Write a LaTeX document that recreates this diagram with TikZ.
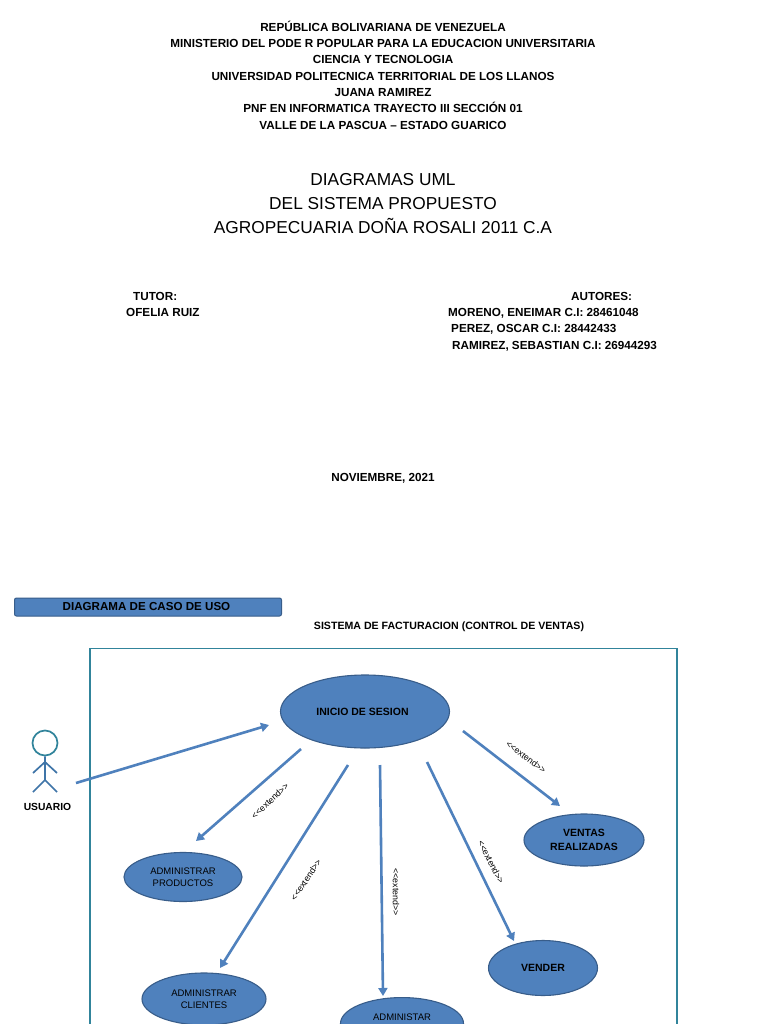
\documentclass[tikz,border=0pt]{standalone}
\usepackage{fontspec}
\setmainfont{Liberation Sans}
\usetikzlibrary{shapes.geometric,arrows.meta}
\definecolor{usefill}{HTML}{4F81BD}
\definecolor{useline}{HTML}{385D8A}
\definecolor{teal}{HTML}{31849B}
\definecolor{limb}{HTML}{3F75A8}
\tikzset{
  head/.style={font=\bfseries\fontsize{11.7}{12}\selectfont,inner sep=0pt,text=black,text height=8.4pt,text depth=0pt},
  big/.style={font=\fontsize{17.3}{17}\selectfont,inner sep=0pt,text=black,text height=12.4pt,text depth=0pt},
  usecase/.style={ellipse,draw=useline,line width=1.1pt,fill=usefill,inner sep=0pt,align=center},
  boldtxt/.style={font=\bfseries\fontsize{10.5}{13.5}\selectfont,text=black},
  thintxt/.style={font=\fontsize{9.5}{11.8}\selectfont,text=black},
  ext/.style={font=\fontsize{8.8}{9}\selectfont,inner sep=0pt,text=black},
  flow/.style={draw=usefill,line width=2.6pt,-{Triangle[length=8pt,width=9pt]}},
  stick/.style={draw=limb,line width=1.7pt},
}
\newcommand{\extlabel}{<{}<extend>{}>}
\begin{document}
\begin{tikzpicture}[x=1pt,y=-1pt]
\useasboundingbox (0,0) rectangle (768,1024);
\clip (0,0) rectangle (768,1024);
\fill[white] (0,0) rectangle (768,1024);
\node[head] (h1) at (383,27) {REPÚBLICA BOLIVARIANA DE VENEZUELA};
\node[head] (h2) at (383,43.5) {MINISTERIO DEL PODE R POPULAR PARA LA EDUCACION UNIVERSITARIA};
\node[head] (h3) at (383,59.5) {CIENCIA Y TECNOLOGIA};
\node[head] (h4) at (383,76) {UNIVERSIDAD POLITECNICA TERRITORIAL DE LOS LLANOS};
\node[head] (h5) at (383,92) {JUANA RAMIREZ};
\node[head] (h6) at (383,108.5) {PNF EN INFORMATICA TRAYECTO III SECCIÓN 01};
\node[head] (h7) at (383,125) {VALLE DE LA PASCUA – ESTADO GUARICO};
\node[big] (t1) at (383,179) {DIAGRAMAS UML};
\node[big] (t2) at (383,203) {DEL SISTEMA PROPUESTO};
\node[big] (t3) at (383,227) {AGROPECUARIA DOÑA ROSALI 2011 C.A};
\node[head,anchor=west] (a1) at (133,296) {TUTOR:};
\node[head,anchor=west] (a2) at (126,312) {OFELIA RUIZ};
\node[head,anchor=west] (a3) at (571,296) {AUTORES:};
\node[head,anchor=west] (a4) at (448,312) {MORENO, ENEIMAR C.I: 28461048};
\node[head,anchor=west] (a5) at (451,328) {PEREZ, OSCAR C.I: 28442433};
\node[head,anchor=west] (a6) at (452,345) {RAMIREZ, SEBASTIAN C.I: 26944293};
\node[head] (date) at (383,477) {NOVIEMBRE, 2021};
\node[draw=useline,line width=1pt,fill=usefill,rounded corners=2pt,minimum width=267pt,minimum height=18pt,inner sep=0pt,font=\bfseries\fontsize{11.6}{12}\selectfont,text=black] (banner) at (148,607) {\hspace*{-3pt}\raisebox{-0.8pt}{DIAGRAMA DE CASO DE USO}};
\node[font=\bfseries\fontsize{10.6}{12}\selectfont,inner sep=0pt,text=black,text height=7.6pt,text depth=0pt] (sys) at (449,625.5) {SISTEMA DE FACTURACION (CONTROL DE VENTAS)};
\node[draw=teal,line width=1.5pt,minimum width=587pt,minimum height=600pt,inner sep=0pt,anchor=north west] (frame) at (89.2,647.5) {};
% actor
\node[circle,draw=teal,line width=1.7pt,minimum size=25pt,inner sep=0pt] (head) at (45,743) {};
\coordinate (hip) at (45,780);
\coordinate (arml) at (33,773);
\coordinate (armr) at (57,773);
\coordinate (neck) at (45,762);
\coordinate (legl) at (33,792);
\coordinate (legr) at (57,792);
\draw[stick] (head.south) -- (hip) (arml) -- (neck) -- (armr) (legl) -- (hip) -- (legr);
\node[inner sep=0pt,font=\bfseries\fontsize{10.3}{12}\selectfont,text=black] (usr) at (47.5,807) {USUARIO};
% use cases
\node[usecase,boldtxt,minimum width=169pt,minimum height=73pt] (inicio) at (365,711.5) {\hspace*{-5pt}INICIO DE SESION};
\node[usecase,thintxt,minimum width=118pt,minimum height=49pt] (prod) at (183,877) {ADMINISTRAR\\PRODUCTOS};
\node[usecase,thintxt,minimum width=124pt,minimum height=52pt] (cli) at (204,999) {\raisebox{-2pt}{ADMINISTRAR}\\\raisebox{-2pt}{CLIENTES}};
\node[usecase,thintxt,minimum width=123pt,minimum height=52pt,anchor=north] (adm) at (402,997) {\raisebox{1pt}{ADMINISTAR}\\\phantom{X}};
\node[usecase,boldtxt,minimum width=120pt,minimum height=52pt] (ven) at (584,840) {VENTAS\\REALIZADAS};
\node[usecase,boldtxt,minimum width=109pt,minimum height=55pt] (vend) at (543,968) {VENDER};
% free ends
\coordinate (uS) at (76,783);
\coordinate (uE) at (269,725);
\coordinate (pS) at (301,749);
\coordinate (pE) at (196,841);
\coordinate (cS) at (348,765);
\coordinate (cE) at (220,968);
\coordinate (aS) at (380,765);
\coordinate (aE) at (383,996);
\coordinate (vS) at (427,762);
\coordinate (vE) at (514,941);
\coordinate (rS) at (463,731);
\coordinate (rE) at (560,806);
\draw[flow] (uS) -- (uE);
\draw[flow] (pS) -- (pE);
\draw[flow] (cS) -- (cE);
\draw[flow] (aS) -- (aE);
\draw[flow] (vS) -- (vE);
\draw[flow] (rS) -- (rE);
% labels
\node[ext,rotate=43] (e1) at (270,801) {\extlabel};
\node[ext,rotate=56] (e2) at (306,880) {\extlabel};
\node[ext,rotate=-90] (e3) at (396,892) {\extlabel};
\node[ext,rotate=-63] (e4) at (491,862) {\extlabel};
\node[ext,rotate=-37] (e5) at (526,757) {\extlabel};
\end{tikzpicture}
\end{document}
